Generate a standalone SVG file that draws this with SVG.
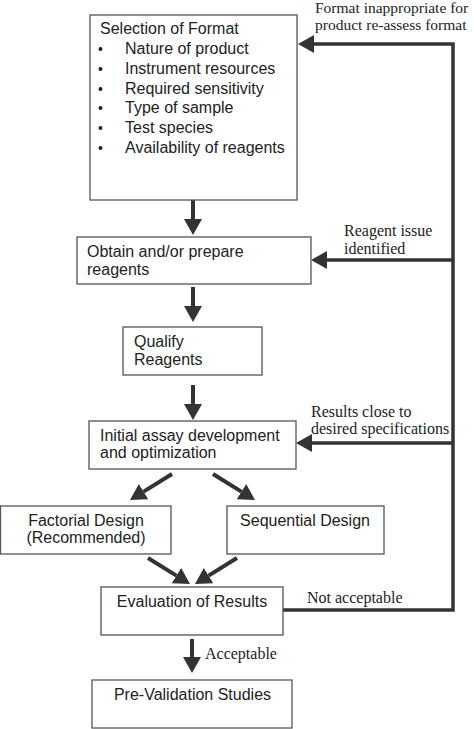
<svg xmlns="http://www.w3.org/2000/svg" width="474" height="729" viewBox="0 0 474 729">
<defs>
<style>
.box{fill:#fff;stroke:#555;stroke-width:1.3}
.t{font-family:"Liberation Sans",Arial,sans-serif;font-size:16px;fill:#222}
.c{text-anchor:middle}
.lbl{font-family:"Liberation Serif","Times New Roman",serif;font-size:16px;fill:#222}
.top{font-size:15.5px}
.con{fill:none;stroke:#333;stroke-width:4}
.fb{fill:none;stroke:#333;stroke-width:3.5}
</style>
<marker id="ah" markerUnits="userSpaceOnUse" viewBox="0 0 16 18" markerWidth="16" markerHeight="18" refX="0" refY="9" orient="auto">
<path d="M0,0 L16,9 L0,18 Z" fill="#333"/>
</marker>
</defs>
<rect width="474" height="729" fill="#fff"/>
<g id="connectors">
<line class="con" x1="193" y1="200" x2="193" y2="219" marker-end="url(#ah)"/>
<line class="con" x1="193" y1="287" x2="193" y2="306" marker-end="url(#ah)"/>
<line class="con" x1="193" y1="385" x2="193" y2="404" marker-end="url(#ah)"/>
<line class="con" x1="172" y1="474" x2="143.6" y2="491.6" marker-end="url(#ah)"/>
<line class="con" x1="213" y1="474" x2="241.4" y2="491.6" marker-end="url(#ah)"/>
<line class="con" x1="148" y1="558" x2="176.4" y2="575.6" marker-end="url(#ah)"/>
<line class="con" x1="237" y1="558" x2="208.6" y2="575.6" marker-end="url(#ah)"/>
<line class="con" x1="192" y1="639" x2="192" y2="657" marker-end="url(#ah)"/>
<path class="fb" d="M283,610 H453 V44 H314" marker-end="url(#ah)"/>
<line class="fb" x1="453" y1="260" x2="327" y2="260" marker-end="url(#ah)"/>
<line class="fb" x1="453" y1="443" x2="312" y2="443" marker-end="url(#ah)"/>
<text class="lbl top" x="315" y="13">Format inappropriate for</text>
<text class="lbl top" x="315" y="30">product re-assess format</text>
<text class="lbl" x="344" y="236">Reagent issue</text>
<text class="lbl" x="344" y="254">identified</text>
<text class="lbl" x="311" y="417">Results close to</text>
<text class="lbl" x="311" y="434">desired specifications</text>
<text class="lbl" x="307" y="603">Not acceptable</text>
<text class="lbl" x="205" y="659">Acceptable</text>
</g>
<g id="selection">
<rect class="box" x="90" y="15" width="207" height="185"/>
<text class="t" x="100" y="34">Selection of Format</text>
<g fill="#222">
<circle cx="100.5" cy="49" r="2"/>
<circle cx="100.5" cy="69" r="2"/>
<circle cx="100.5" cy="89" r="2"/>
<circle cx="100.5" cy="108" r="2"/>
<circle cx="100.5" cy="128" r="2"/>
<circle cx="100.5" cy="148" r="2"/>
</g>
<text class="t" x="125" y="54">Nature of product</text>
<text class="t" x="125" y="74">Instrument resources</text>
<text class="t" x="125" y="94">Required sensitivity</text>
<text class="t" x="125" y="113">Type of sample</text>
<text class="t" x="125" y="133">Test species</text>
<text class="t" x="125" y="153">Availability of reagents</text>
</g>
<g id="obtain">
<rect class="box" x="77" y="237" width="234" height="47"/>
<text class="t" x="87" y="257">Obtain and/or prepare</text>
<text class="t" x="87" y="275">reagents</text>
</g>
<g id="qualify">
<rect class="box" x="123" y="327" width="139" height="48"/>
<text class="t" x="134" y="347">Qualify</text>
<text class="t" x="134" y="365">Reagents</text>
</g>
<g id="initial">
<rect class="box" x="89" y="421" width="207" height="48"/>
<text class="t" x="100" y="441">Initial assay development</text>
<text class="t" x="100" y="458">and optimization</text>
</g>
<g id="factorial">
<rect class="box" x="0.5" y="506" width="170.5" height="48"/>
<text class="t c" x="86" y="526">Factorial Design</text>
<text class="t c" x="86" y="543">(Recommended)</text>
</g>
<g id="sequential">
<rect class="box" x="227" y="506" width="157" height="48"/>
<text class="t c" x="305" y="526">Sequential Design</text>
</g>
<g id="evaluation">
<rect class="box" x="101" y="587" width="182" height="48"/>
<text class="t c" x="192" y="607">Evaluation of Results</text>
</g>
<g id="prevalidation">
<rect class="box" x="92" y="680" width="200" height="48"/>
<text class="t c" x="192.5" y="700">Pre-Validation Studies</text>
</g>
</svg>
